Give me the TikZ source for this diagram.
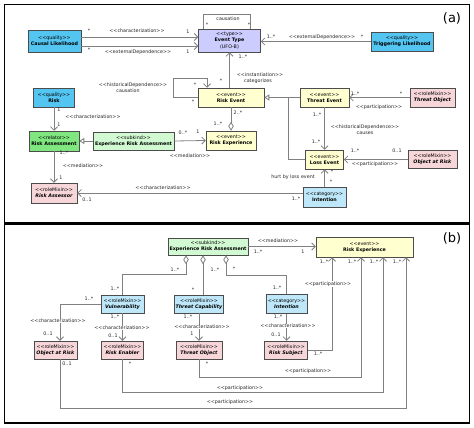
\documentclass[tikz,border=0pt]{standalone}
\usepackage{fontspec}
\setmainfont{DejaVu Sans}
\usepackage{xcolor}
\usetikzlibrary{arrows.meta}

\definecolor{qualityblue}{RGB}{84,196,240}
\definecolor{typeblue}{RGB}{204,204,255}
\definecolor{eventyellow}{RGB}{255,255,208}
\definecolor{rolepink}{RGB}{247,214,218}
\definecolor{relatorgreen}{RGB}{128,230,128}
\definecolor{subkindgreen}{RGB}{210,250,210}
\definecolor{categoryblue}{RGB}{190,232,250}

\newcommand\umlfont{\fontsize{4.8}{6.2}\selectfont}
\newcommand\stereo[1]{<{}<#1>{}>}

\begin{document}
\begin{tikzpicture}[x=1pt, y=-1pt,
  cls/.style={draw=black!70, line width=0.5pt, align=center, inner sep=0.5pt, font=\umlfont},
  quality/.style={cls, fill=qualityblue},
  typebox/.style={cls, fill=typeblue},
  event/.style={cls, fill=eventyellow},
  role/.style={cls, fill=rolepink},
  relator/.style={cls, fill=relatorgreen},
  subkind/.style={cls, fill=subkindgreen},
  category/.style={cls, fill=categoryblue},
  lbl/.style={font=\umlfont, inner sep=0.4pt, text=black!85},
  onln/.style={lbl, fill=white},
  plain/.style={draw=black!50, line width=0.8pt},
  assoc/.style={plain, -{Straight Barb[length=3.5pt,width=7pt]}},
  gen/.style={plain, -{Triangle[open,length=5pt,width=6pt]}},
  aggr/.style={plain, {Diamond[open,length=9pt,width=5.5pt]}-}]
  \fill[white] (0,0) rectangle (474,428);
  \useasboundingbox (0,0) rectangle (474,428);
  % panel frames
  \draw[line width=1.3pt] (4.5,4.5) rectangle (469.5,223);
  \draw[line width=1.3pt] (4.5,224) rectangle (469.5,423);
  \node[font=\fontsize{13}{15}\selectfont] (taga) at (452,18) {(a)};
  \node[font=\fontsize{13}{15}\selectfont] (tagb) at (452,238) {(b)};

  % (a) classes
  \node[quality, minimum width=53pt, minimum height=22pt] (cl) at (54.5,41)
    {\stereo{quality}\\\textbf{Causal Likelihood}};
  \node[typebox, minimum width=62pt, minimum height=23pt] (et) at (229.5,40.5)
    {\stereo{type}\\\textbf{Event Type}\\(UFO-B)};
  \node[quality, minimum width=62pt, minimum height=19pt] (tl) at (402,41.5)
    {\stereo{quality}\\\textbf{Triggering Likelihood}};
  \node[quality, minimum width=41pt, minimum height=19pt] (risk) at (54,97.5)
    {\stereo{quality}\\\textbf{Risk}};
  \node[event, minimum width=66pt, minimum height=19pt] (re) at (231,97.5)
    {\stereo{event}\\\textbf{Risk Event}};
  \node[event, minimum width=49pt, minimum height=19pt] (te) at (324.5,97.5)
    {\stereo{event}\\\textbf{Threat Event}};
  \node[role, minimum width=45pt, minimum height=19pt] (to) at (432.5,97.5)
    {\stereo{roleMixin}\\\textbf{\textit{Threat Object}}};
  \node[relator, minimum width=50pt, minimum height=20pt] (ra) at (54,141)
    {\stereo{relator}\\\textbf{Risk Assessment}};
  \node[subkind, minimum width=81pt, minimum height=18pt] (era) at (133.5,141)
    {\stereo{subkind}\\\textbf{Experience Risk Assessment}};
  \node[event, minimum width=50pt, minimum height=19pt] (rx) at (231,140.5)
    {\stereo{event}\\\textbf{Risk Experience}};
  \node[event, minimum width=38pt, minimum height=19pt] (le) at (324.5,159.5)
    {\stereo{event}\\\textbf{Loss Event}};
  \node[role, minimum width=49pt, minimum height=18pt] (oar) at (432.5,159.5)
    {\stereo{roleMixin}\\\textbf{\textit{Object at Risk}}};
  \node[role, minimum width=46pt, minimum height=20pt] (rasr) at (54,193)
    {\stereo{roleMixin}\\\textbf{\textit{Risk Assessor}}};
  \node[category, minimum width=43pt, minimum height=20pt] (int) at (324.5,197)
    {\stereo{category}\\\textbf{Intention}};

  % (a) relations
  \draw[assoc] ([yshift=4pt]cl.east) -- ([yshift=4pt]cl.east -| et.west);
  \draw[assoc] ([yshift=-5pt]cl.east) -- ([yshift=-5pt]cl.east -| et.west);
  \draw[assoc] (tl.west) -- (tl.west -| et.east);
  \draw[plain] ([xshift=-26pt]et.north) -- ++(0,-14) -| ([xshift=21pt]et.north);
  \draw[assoc] (et.south |- re.north) -- (et.south);
  \draw[assoc] (re.west) -- ++(-24,0) -- ++(0,-19) -| ([xshift=-24pt]re.north);
  \draw[gen] (te.west) -- (re.east);
  \draw[plain] (le.west) -| ([xshift=-11pt]te.west);
  \draw[assoc] (to.west) -- (te.east);
  \draw[aggr] (rx.north) -- (re.south);
  \draw[assoc] (risk.south) -- (ra.north);
  \draw[gen] (era.west) -- (ra.east);
  \draw[assoc] (era.east) -- (rx.west);
  \draw[assoc] (ra.south) -- (rasr.north);
  \draw[assoc] (rasr.east -| int.west) -- (rasr.east);
  \draw[assoc] (te.south) -- (le.north);
  \draw[assoc] (oar.west) -- (le.east);
  \draw[assoc] (int.north) -- (le.south);

  % (a) labels
  \node[lbl] (la1) at (228,19) {causation};
  \node[lbl] (la2) at (207,25) {*};
  \node[lbl] (la3) at (249,25) {*};
  \node[lbl] (la4) at (89,31) {*};
  \node[lbl] (la5) at (137,31) {\stereo{characterization}};
  \node[lbl] (la6) at (188,32) {1};
  \node[lbl] (la7) at (89,50) {*};
  \node[lbl] (la8) at (138,52) {\stereo{externalDependence}};
  \node[lbl] (la9) at (188,52) {1};
  \node[lbl] (la10) at (271,37) {1..*};
  \node[lbl] (la11) at (322,37) {\stereo{externalDependence}};
  \node[lbl] (la12) at (362,37) {*};
  \node[lbl] (la13) at (243,57) {1..*};
  \node[lbl] (la14) at (260,75) {\stereo{instantiation}};
  \node[lbl] (la15) at (258,81) {categorizes};
  \node[lbl] (la16) at (221,81) {*};
  \node[lbl] (la17) at (133,85) {\stereo{historicalDependence}};
  \node[lbl] (la18) at (128,91) {causation};
  \node[lbl] (la19) at (195,85) {*};
  \node[lbl] (la20) at (193,102) {*};
  \node[lbl] (la21) at (355,94) {1..*};
  \node[lbl] (la22) at (401,94) {*};
  \node[lbl] (la23) at (379,107) {\stereo{participation}};
  \node[lbl] (la24) at (59,110) {1};
  \node[lbl] (la25) at (93,117) {\stereo{characterization}};
  \node[lbl] (la26) at (59,125) {1};
  \node[lbl] (la27) at (238,113) {2..*};
  \node[lbl] (la28) at (218,124) {1..*};
  \node[lbl] (la29) at (317,115) {1..*};
  \node[lbl] (la30) at (365,127) {\stereo{historicalDependence}};
  \node[lbl] (la31) at (365,133) {causes};
  \node[lbl] (la32) at (316,142) {1..*};
  \node[lbl] (la33) at (183,133) {0..*};
  \node[lbl] (la34) at (198,132) {1};
  \node[lbl] (la35) at (190,156) {\stereo{mediation}};
  \node[lbl] (la36) at (64,153) {1..*};
  \node[lbl] (la37) at (83,166) {\stereo{mediation}};
  \node[lbl] (la38) at (61,178) {1};
  \node[lbl] (la39) at (355,151) {1..*};
  \node[lbl] (la40) at (397,151) {0..1};
  \node[lbl] (la41) at (375,164) {\stereo{participation}};
  \node[lbl] (la42) at (332,172) {*};
  \node[lbl] (la43) at (293,177) {hurt by loss event};
  \node[lbl] (la44) at (331,182) {*};
  \node[lbl] (la45) at (163,188) {\stereo{characterization}};
  \node[lbl] (la46) at (87,200) {0..1};
  \node[lbl] (la47) at (296,199) {1..*};

  % (b) classes
  \node[subkind, minimum width=80pt, minimum height=17pt] (era2) at (208,246.5)
    {\stereo{subkind}\\\textbf{Experience Risk Assessment}};
  \node[event, minimum width=97pt, minimum height=20pt] (rx2) at (364.5,247)
    {\stereo{event}\\\textbf{Risk Experience}};
  \node[category, minimum width=43pt, minimum height=18pt] (vul) at (122.5,304)
    {\stereo{roleMixin}\\\textbf{\textit{Vulnerability}}};
  \node[category, minimum width=49pt, minimum height=18pt] (tc) at (199,304)
    {\stereo{roleMixin}\\\textbf{\textit{Threat Capability}}};
  \node[category, minimum width=41pt, minimum height=19pt] (int2) at (286.5,304)
    {\stereo{category}\\\textbf{\textit{Intention}}};
  \node[role, minimum width=43pt, minimum height=18pt] (oar2) at (55.5,350)
    {\stereo{roleMixin}\\\textbf{\textit{Object at Risk}}};
  \node[role, minimum width=42pt, minimum height=18pt] (ren) at (122.5,350)
    {\stereo{roleMixin}\\\textbf{\textit{Risk Enabler}}};
  \node[role, minimum width=46pt, minimum height=18pt] (to2) at (199,350)
    {\stereo{roleMixin}\\\textbf{\textit{Threat Object}}};
  \node[role, minimum width=43pt, minimum height=18pt] (rs) at (286,350)
    {\stereo{roleMixin}\\\textbf{\textit{Risk Subject}}};

  % (b) relations
  \draw[assoc] (era2.east) -- (era2.east -| rx2.west);
  \draw[aggr] ([xshift=-22pt]era2.south) |- ([yshift=20pt]vul.north) -- (vul.north);
  \draw[aggr] ([xshift=-5pt]era2.south) -- ([xshift=-5pt]era2.south |- tc.north);
  \draw[aggr] ([xshift=18pt]era2.south) |- ([yshift=19pt]int2.north) -- (int2.north);
  \draw[assoc] (vul.west) -| ([xshift=4.5pt]oar2.north);
  \draw[assoc] (vul.south) -- (ren.north);
  \draw[assoc] (tc.south) -- (to2.north);
  \draw[assoc] (int2.south) -- (int2.south |- rs.north);
  \draw[assoc] (rs.east) -| ([xshift=-32.5pt]rx2.south);
  \draw[assoc] (to2.south) -- ++(0,18) -| ([xshift=-3.5pt]rx2.south);
  \draw[assoc] (ren.south) -- ++(0,33) -| ([xshift=18.5pt]rx2.south);
  \draw[assoc] ([xshift=4.5pt]oar2.south) -- ++(0,49) -| ([xshift=41.5pt]rx2.south);

  % (b) labels
  \node[lbl] (lb1) at (278,241) {\stereo{mediation}};
  \node[lbl] (lb2) at (258,252) {1..*};
  \node[lbl] (lb3) at (303,252) {1};
  \node[lbl] (lb4) at (324,262) {1..*};
  \node[lbl] (lb5) at (352,262) {1..*};
  \node[lbl] (lb6) at (374,262) {1..*};
  \node[lbl] (lb7) at (397,262) {1..*};
  \node[lbl] (lb8) at (175,270) {1..*};
  \node[lbl] (lb9) at (215,270) {1..*};
  \node[lbl] (lb10) at (234,269) {*};
  \node[lbl] (lb11) at (115,289) {1..*};
  \node[lbl] (lb12) at (193,290) {*};
  \node[lbl] (lb13) at (277,288) {1..*};
  \node[lbl] (lb14) at (89,299) {1..*};
  \node[onln] (lb15) at (328,284) {\stereo{participation}};
  \node[lbl] (lb16) at (115,317) {1..*};
  \node[lbl] (lb17) at (188,317) {1..*};
  \node[lbl] (lb18) at (278,317) {1..*};
  \node[onln] (lb19) at (58,321) {\stereo{characterization}};
  \node[onln] (lb20) at (122,328) {\stereo{characterization}};
  \node[onln] (lb21) at (202,327) {\stereo{characterization}};
  \node[onln] (lb22) at (288,326) {\stereo{characterization}};
  \node[lbl] (lb23) at (48,334) {0..1};
  \node[lbl] (lb24) at (113,336) {0..1};
  \node[lbl] (lb25) at (192,334) {1};
  \node[lbl] (lb26) at (276,335) {0..1};
  \node[lbl] (lb27) at (318,354) {1..*};
  \node[lbl] (lb28) at (67,364) {0..1};
  \node[lbl] (lb29) at (130,364) {*};
  \node[lbl] (lb30) at (207,364) {*};
  \node[lbl] (lb31) at (308,371) {\stereo{participation}};
  \node[lbl] (lb32) at (240,388) {\stereo{participation}};
  \node[lbl] (lb33) at (230,402) {\stereo{participation}};
\end{tikzpicture}
\end{document}
